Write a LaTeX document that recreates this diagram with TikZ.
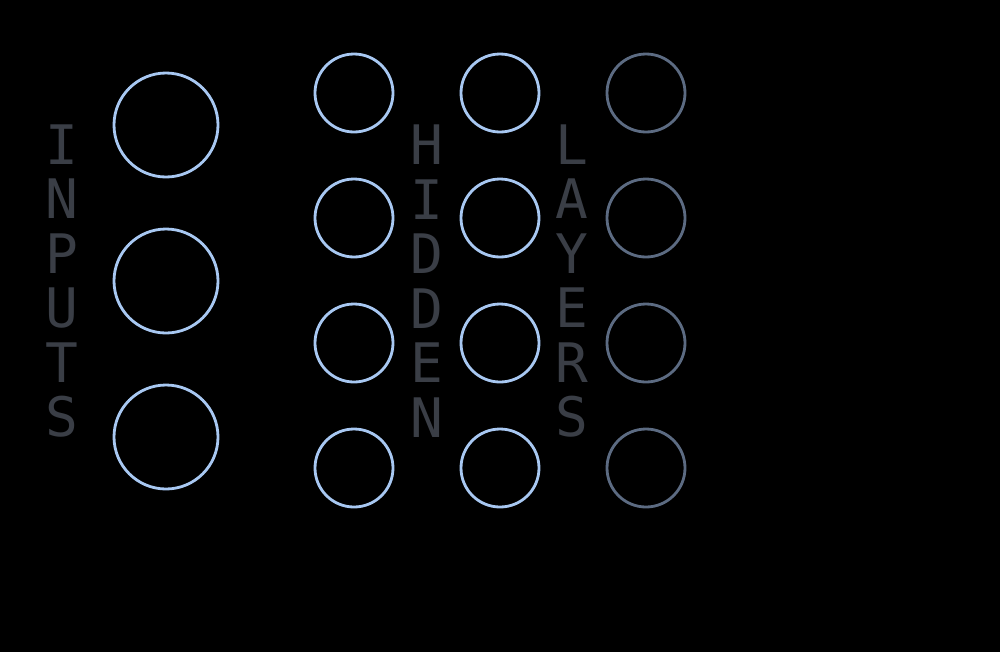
\documentclass[tikz,border=0pt]{standalone}
\usepackage{fontspec}
\usepackage{xcolor}
\usetikzlibrary{positioning}
\newfontfamily\labelfont{DejaVu Sans Mono}
\definecolor{NeuronBlue}{HTML}{A8C8F2}
\definecolor{NeuronDim}{HTML}{5C6B82}
\definecolor{LabelGray}{HTML}{3A3E46}

\begin{document}
\begin{tikzpicture}[on grid, node distance=2.5cm,
    input/.style={circle, draw=NeuronBlue, line width=1.6pt, minimum size=2.08cm, inner sep=0pt},
    hidden/.style={circle, draw=NeuronBlue, line width=1.6pt, minimum size=1.56cm, inner sep=0pt},
    output/.style={hidden, draw=NeuronDim},
    caption/.style={text=LabelGray, align=center, inner sep=0pt, font=\labelfont\fontsize{31pt}{31pt}\selectfont}]

    \fill[black] (0,0) rectangle (20,-13.04);
    \useasboundingbox (0,0) rectangle (20,-13.04);

    % input layer
    \node[input] (I1) at (3.32,-2.50) {};
    \node[input, below=3.12cm of I1] (I2) {};
    \node[input, below=3.12cm of I2] (I3) {};

    % first hidden layer
    \node[hidden] (A1) at (7.08,-1.86) {};
    \node[hidden, below=of A1] (A2) {};
    \node[hidden, below=of A2] (A3) {};
    \node[hidden, below=of A3] (A4) {};

    % second hidden layer
    \node[hidden, right=2.92cm of A1] (B1) {};
    \node[hidden, below=of B1] (B2) {};
    \node[hidden, below=of B2] (B3) {};
    \node[hidden, below=of B3] (B4) {};

    % third layer
    \node[output, right=2.92cm of B1] (C1) {};
    \node[output, below=of C1] (C2) {};
    \node[output, below=of C2] (C3) {};
    \node[output, below=of C3] (C4) {};

    % vertical labels
    \node[caption] (inputs) at (1.24,-5.62) {I\\N\\P\\U\\T\\S};
    \node[caption] (hiddenlbl) at (8.54,-5.62) {H\\I\\D\\D\\E\\N};
    \node[caption] (layers) at (11.44,-5.62) {L\\A\\Y\\E\\R\\S};

\end{tikzpicture}
\end{document}
